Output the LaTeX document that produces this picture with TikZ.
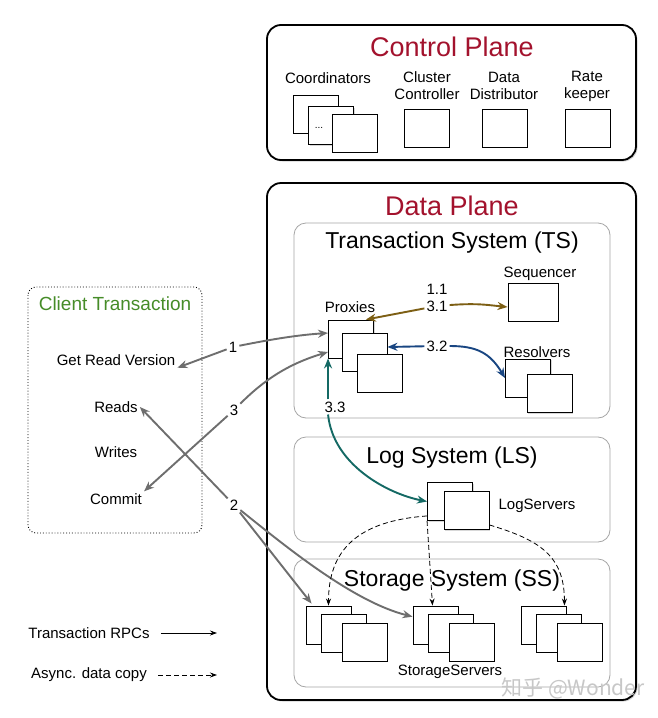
\documentclass[tikz,border=0pt]{standalone}
\usepackage{fontspec}
\setmainfont{Liberation Sans}
\newfontfamily\cjk{Noto Sans CJK SC}
\usetikzlibrary{arrows.meta,shadows,calc}
\definecolor{planered}{RGB}{163,18,45}
\definecolor{clientgreen}{RGB}{70,140,40}
\definecolor{rpcgray}{RGB}{110,110,110}
\definecolor{seqbrown}{RGB}{125,95,20}
\definecolor{resblue}{RGB}{25,70,130}
\definecolor{logteal}{RGB}{20,105,100}
\begin{document}
\begin{tikzpicture}[x=1pt,y=-1pt,
	plane/.style={draw,fill=white,rounded corners=14pt,line width=1.8pt,drop shadow={shadow xshift=1.5pt,shadow yshift=-1.5pt,opacity=0.35}},
	subsys/.style={draw=black!35,rounded corners=12pt,line width=0.8pt},
	srv/.style={draw,fill=white,line width=0.9pt,minimum width=45pt,minimum height=38pt,inner sep=0pt,drop shadow={shadow xshift=1.2pt,shadow yshift=-1.2pt,opacity=0.3}},
	lbl/.style={font=\fontsize{15}{17}\selectfont,inner sep=2pt,align=center},
	ptitle/.style={font=\fontsize{27}{30}\selectfont,text=planered},
	stitle/.style={font=\fontsize{23}{26}\selectfont},
	rpc/.style={draw=rpcgray,line width=1.9pt,-{Stealth[length=10pt,width=8pt]}},
	async/.style={line width=0.8pt,dash pattern=on 5pt off 3pt,-{Stealth[length=7pt,width=5pt]}}]
	\useasboundingbox (0,0) rectangle (657,718);
	% planes
	\draw[plane] (267,25) rectangle (636,160);
	\draw[plane] (267,183) rectangle (636,700);
	\node[ptitle] (cptitle) at (452,47) {Control Plane};
	\node[ptitle] (dptitle) at (452,206) {Data Plane};
	\draw[subsys] (294,223) rectangle (610,418);
	\draw[subsys] (294,437) rectangle (610,542);
	\draw[subsys] (294,559) rectangle (610,687);
	\node[stitle] (tstitle) at (452,243) {Transaction System (TS)};
	\node[stitle] (lstitle) at (452,458) {Log System (LS)};
	\node[stitle] (sstitle) at (452,581) {Storage System (SS)};
	% control plane roles
	\node[lbl] (coordlbl) at (328,78) {Coordinators};
	\node[lbl] (cclbl) at (427,86) {Cluster\\Controller};
	\node[lbl] (ddlbl) at (504,86) {Data\\Distributor};
	\node[lbl] (rklbl) at (587,86) {Rate\\keeper};
	\node[srv] (c1) at (315.5,114) {};
	\node[srv] (c2) at (331,125.5) {};
	\node[font=\fontsize{10}{10}\selectfont] (cdots) at (319,128) {...};
	\node[srv] (c3) at (354.5,133) {};
	\node[srv] (cc) at (426.5,128) {};
	\node[srv] (dd) at (504.5,128) {};
	\node[srv] (rk) at (587.5,128) {};
	% transaction system
	\node[lbl] (seqlbl) at (540,274) {Sequencer};
	\node[srv,minimum width=50pt] (seq) at (533,302) {};
	\node[lbl] (prxlbl) at (350,307) {Proxies};
	\node[srv] (p1) at (351,339) {};
	\node[srv] (p2) at (364.5,352) {};
	\node[srv] (p3) at (379.5,373) {};
	\node[lbl] (reslbl) at (537,352) {Resolvers};
	\node[srv] (r1) at (528,378) {};
	\node[srv] (r2) at (549.5,393.5) {};
	% log system
	\node[srv] (l1) at (450,501.5) {};
	\node[srv] (l2) at (466.5,510.5) {};
	\node[lbl] (loglbl) at (537,506) {LogServers};
	% storage system
	\foreach \g/\x in {1/328.5,2/435.5,3/543.5}{
		\node[srv] (s\g1) at (\x,625) {};
		\node[srv] (s\g2) at (\x+15,633) {};
		\node[srv] (s\g3) at (\x+36,642) {};
	}
	\node[lbl] (stolbl) at (450,672) {StorageServers};
	% client transaction
	\draw[dotted,line width=0.9pt,rounded corners=8pt] (28,287) rectangle (202,533);
	\node[font=\fontsize{19}{22}\selectfont,text=clientgreen] (cttitle) at (115,304) {Client Transaction};
	\node[lbl] (grv) at (116,360) {Get Read Version};
	\node[lbl] (rds) at (116,407) {Reads};
	\node[lbl] (wrt) at (116,452) {Writes};
	\node[lbl] (cmt) at (116,499) {Commit};
	% step numbers
	\node[lbl] (n1) at (233,347) {1};
	\node[lbl] (n3) at (234,410) {3};
	\node[lbl] (n2) at (234,505) {2};
	\node[lbl] (n11) at (437,289) {1.1};
	\node[lbl] (n31) at (437,306) {3.1};
	\node[lbl] (n32) at (437,346) {3.2};
	\node[lbl] (n33) at (335,407) {3.3};
	% rpcs
	\draw[rpc] (n1) -- (grv.south east);
	\draw[rpc] (n1) .. controls +(40,-8) and +(-30,2) .. ([yshift=6pt]p1.west);
	\draw[rpc] (n3) -- (cmt.north east);
	\draw[rpc] (n3) .. controls +(30,-30) and +(-40,12) .. ([yshift=-13pt]p1.west);
	\draw[rpc] (n2) -- (rds.east);
	\draw[rpc] (n2) -- ([xshift=6pt,yshift=2pt]s11.north west);
	\draw[rpc] (n2) .. controls +(50,40) and +(-60,-15) .. (s21.160);
	\draw[rpc,draw=seqbrown] (n31) -- ([xshift=-8pt]p1.north east);
	\draw[rpc,draw=seqbrown] (n31) .. controls +(40,-3) and +(-20,-2) .. ([yshift=-5pt]seq.west);
	\draw[rpc,draw=resblue] (n32) -- ([yshift=5pt]p2.east);
	\draw[rpc,draw=resblue] (n32) .. controls +(40,0) and +(-15,-25) .. (r1.west);
	\draw[rpc,draw=logteal] (n33.north -| p1.south west) -- (p1.south west);
	\draw[rpc,draw=logteal] (n33.south -| p1.south west) .. controls +(5,50) and +(-40,-8) .. (l1.west);
	% async copies
	\draw[async] ([yshift=5pt]l1.south west) .. controls +(-70,5) and +(0,-55) .. (s11.north);
	\draw[async] (l1.south west) -- ([xshift=-3pt]s21.north);
	\draw[async] ([yshift=5pt]l2.south east) .. controls +(50,15) and +(0,-50) .. ([xshift=-2pt]s31.north east);
	% legend
	\node[lbl] (lgrpc) at (89,633) {Transaction RPCs};
	\node[lbl] (lgasync) at (89,675) {Async. data copy};
	\coordinate (lgrpcend) at (217,633);
	\coordinate (lgasyncend) at (217,675);
	\draw[line width=0.8pt,-{Stealth[length=7pt,width=5pt]}] ([xshift=9pt]lgrpc.east) -- (lgrpcend);
	\draw[async] ([xshift=9pt]lgasync.east) -- (lgasyncend);
	\node[font=\cjk\fontsize{21}{21}\selectfont,text=black!22] (wmark) at (573,688) {知乎 @Wonder};
\end{tikzpicture}
\end{document}
